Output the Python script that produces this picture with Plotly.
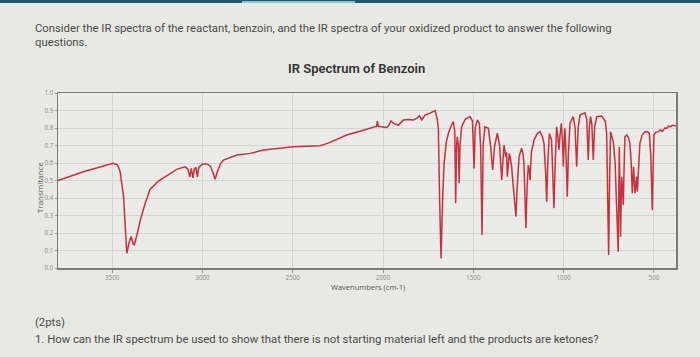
import plotly.graph_objects as go

wavenumbers = [
    3800, 3660, 3548, 3495, 3470, 3456, 3437, 3425, 3419, 3405, 3395, 3385, 3378, 3365, 3345, 3320,
    3290, 3240, 3197, 3140, 3096, 3080, 3070, 3062, 3053, 3045, 3036, 3028, 3020, 3000, 2975, 2955,
    2940, 2930, 2918, 2900, 2884, 2850, 2810, 2736, 2663, 2497, 2400, 2349, 2300, 2201, 2100, 2045,
    2036, 2032, 2027, 2000, 1980, 1968, 1956, 1940, 1915, 1900, 1888, 1860, 1832, 1814, 1805, 1799,
    1786, 1768, 1740, 1718, 1712, 1700, 1694, 1687, 1679, 1670, 1662, 1650, 1638, 1620, 1611, 1603,
    1598, 1593, 1589, 1583, 1579, 1574, 1565, 1545, 1519, 1505, 1496, 1490, 1478, 1467, 1460, 1452,
    1446, 1436, 1417, 1405, 1393, 1382, 1367, 1355, 1343, 1336, 1330, 1321, 1316, 1312, 1306, 1301,
    1294, 1288, 1279, 1270, 1264, 1258, 1247, 1233, 1225, 1220, 1214, 1209, 1203, 1196, 1190, 1186,
    1181, 1177, 1170, 1164, 1145, 1131, 1118, 1109, 1100, 1094, 1088, 1079, 1067, 1060, 1054, 1047,
    1039, 1032, 1026, 1020, 1013, 1006, 1002, 997, 993, 987, 980, 974, 965, 947, 937, 928,
    920, 910, 882, 872, 864, 858, 851, 844, 836, 829, 817, 790, 770, 762, 757, 751,
    745, 740, 725, 715, 710, 703, 698, 695, 692, 688, 685, 682, 679, 674, 670, 666,
    661, 650, 640, 633, 626, 620, 616, 613, 609, 605, 600, 596, 592, 586, 578, 565,
    550, 535, 526, 518, 509, 504, 500, 490, 476, 465, 455, 448, 440, 430, 420, 412,
    395, 378,
]
transmittance = [
    0.50, 0.55, 0.583, 0.598, 0.59, 0.55, 0.41, 0.20, 0.084, 0.15, 0.18, 0.14, 0.13, 0.18, 0.27, 0.36,
    0.45, 0.50, 0.53, 0.565, 0.578, 0.565, 0.52, 0.57, 0.515, 0.565, 0.575, 0.52, 0.575, 0.595, 0.595, 0.58,
    0.54, 0.507, 0.55, 0.595, 0.617, 0.632, 0.646, 0.655, 0.674, 0.693, 0.697, 0.699, 0.715, 0.76, 0.79, 0.804,
    0.81, 0.84, 0.81, 0.806, 0.803, 0.815, 0.84, 0.825, 0.817, 0.832, 0.846, 0.848, 0.846, 0.855, 0.865, 0.87,
    0.846, 0.874, 0.885, 0.893, 0.899, 0.85, 0.80, 0.40, 0.055, 0.40, 0.598, 0.72, 0.77, 0.82, 0.836, 0.78,
    0.37, 0.70, 0.75, 0.70, 0.484, 0.70, 0.807, 0.85, 0.865, 0.84, 0.569, 0.80, 0.846, 0.827, 0.70, 0.188,
    0.70, 0.807, 0.798, 0.70, 0.56, 0.70, 0.77, 0.70, 0.503, 0.62, 0.703, 0.636, 0.66, 0.522, 0.62, 0.655,
    0.62, 0.579, 0.465, 0.38, 0.293, 0.45, 0.636, 0.684, 0.65, 0.598, 0.40, 0.227, 0.45, 0.588, 0.56, 0.503,
    0.62, 0.674, 0.70, 0.731, 0.77, 0.779, 0.75, 0.712, 0.55, 0.379, 0.60, 0.769, 0.731, 0.55, 0.341, 0.60,
    0.807, 0.75, 0.674, 0.76, 0.827, 0.72, 0.579, 0.72, 0.798, 0.65, 0.407, 0.65, 0.827, 0.865, 0.80, 0.579,
    0.80, 0.874, 0.887, 0.85, 0.617, 0.80, 0.865, 0.82, 0.617, 0.80, 0.865, 0.868, 0.84, 0.769, 0.50, 0.074,
    0.55, 0.779, 0.721, 0.60, 0.445, 0.217, 0.093, 0.40, 0.693, 0.40, 0.179, 0.35, 0.522, 0.45, 0.36, 0.55,
    0.75, 0.76, 0.74, 0.712, 0.60, 0.427, 0.50, 0.579, 0.50, 0.427, 0.48, 0.522, 0.436, 0.60, 0.712, 0.76,
    0.779, 0.78, 0.769, 0.65, 0.331, 0.60, 0.76, 0.775, 0.779, 0.79, 0.78, 0.788, 0.80, 0.798, 0.81, 0.807,
    0.815, 0.811,
]

x_ticks = [3500, 3000, 2500, 2000, 1500, 1000, 500]
y_ticks = [0.0, 0.1, 0.2, 0.3, 0.4, 0.5, 0.6, 0.7, 0.8, 0.9, 1.0]
y_tick_labels = ["0.0", "0.1", "0.2", "0.3", "0.4", "0.5", "0.6", "0.7", "0.8", "0.9", "1.0"]

title_text = "IR Spectrum of Benzoin"
x_title = "Wavenumbers (cm-1)"
y_title = "Transmitance"
intro_1 = "Consider the IR spectra of the reactant, benzoin, and the IR spectra of your oxidized product to answer the following"
intro_2 = "questions."
points_text = "(2pts)"
question_text = "1. How can the IR spectrum be used to show that there is not starting material left and the products are ketones?"

W, H = 700, 357
L, R, T, B = 58, 24, 93, 89
PW, PH = W - L - R, H - T - B
BG = "#e8e8e4"


def px(xp):
    return (xp - L) / PW


def py(yp):
    return (H - B - yp) / PH


fig = go.Figure()
fig.add_trace(go.Scatter(
    x=wavenumbers, y=transmittance, mode="lines",
    line=dict(color="#c9303f", width=1.5),
    hoverinfo="skip", showlegend=False,
))

body_font = dict(family="Roboto", size=11.3, color="#4a4a4a")

fig.update_layout(
    width=W, height=H,
    margin=dict(l=L, r=R, t=T, b=B),
    paper_bgcolor=BG, plot_bgcolor="#ebebe7",
    font=dict(family="Roboto", color="#444"),
    xaxis=dict(
        range=[3800, 378], tickvals=x_ticks, ticktext=[str(v) for v in x_ticks],
        showgrid=True, gridcolor="#d4d4d0", gridwidth=1,
        showline=True, linecolor="#7a7a7a", linewidth=1.5, mirror=True,
        ticks="outside", ticklen=3, tickcolor="#999",
        tickfont=dict(family="Open Sans", size=6.3, color="#888"),
        zeroline=False,
    ),
    yaxis=dict(
        range=[0, 1.0], tickvals=y_ticks, ticktext=y_tick_labels,
        showgrid=True, gridcolor="#d4d4d0", gridwidth=1,
        showline=True, linecolor="#7a7a7a", linewidth=1.5, mirror=True,
        ticks="outside", ticklen=2, tickcolor="#999",
        tickfont=dict(family="Open Sans", size=6.3, color="#888"),
        zeroline=False,
    ),
    shapes=[
        dict(type="rect", xref="paper", yref="paper",
             x0=px(0), x1=px(W), y0=py(3), y1=py(0),
             fillcolor="#1f5a72", line=dict(width=0), layer="above"),
        dict(type="rect", xref="paper", yref="paper",
             x0=px(242), x1=px(355), y0=py(3), y1=py(1),
             fillcolor="#8fc3d6", line=dict(width=0), layer="above"),
    ],
    annotations=[
        dict(text=intro_1, xref="paper", yref="paper", x=px(33), y=py(28),
             xanchor="left", yanchor="middle", showarrow=False, font=body_font),
        dict(text=intro_2, xref="paper", yref="paper", x=px(33), y=py(43),
             xanchor="left", yanchor="middle", showarrow=False, font=body_font),
        dict(text=title_text, xref="paper", yref="paper", x=px(356), y=py(69),
             xanchor="center", yanchor="middle", showarrow=False,
             font=dict(family="Roboto", size=13, color="#333", weight=600)),
        dict(text=x_title, xref="paper", yref="paper", x=px(368), y=py(287),
             xanchor="center", yanchor="middle", showarrow=False,
             font=dict(family="Open Sans", size=7.5, color="#555")),
        dict(text=y_title, xref="paper", yref="paper", x=px(39), y=py(188),
             xanchor="center", yanchor="middle", showarrow=False, textangle=-90,
             font=dict(family="Open Sans", size=8, color="#555")),
        dict(text=points_text, xref="paper", yref="paper", x=px(33), y=py(322),
             xanchor="left", yanchor="middle", showarrow=False, font=body_font),
        dict(text=question_text, xref="paper", yref="paper", x=px(33), y=py(339),
             xanchor="left", yanchor="middle", showarrow=False, font=body_font),
    ],
)

fig.write_html(
    "out.html",
    config={"displayModeBar": False, "staticPlot": True},
    post_script=(
        "document.body.style.margin='0';"
        "document.body.style.background='" + BG + "';"
        "document.documentElement.style.overflow='hidden';"
    ),
)
